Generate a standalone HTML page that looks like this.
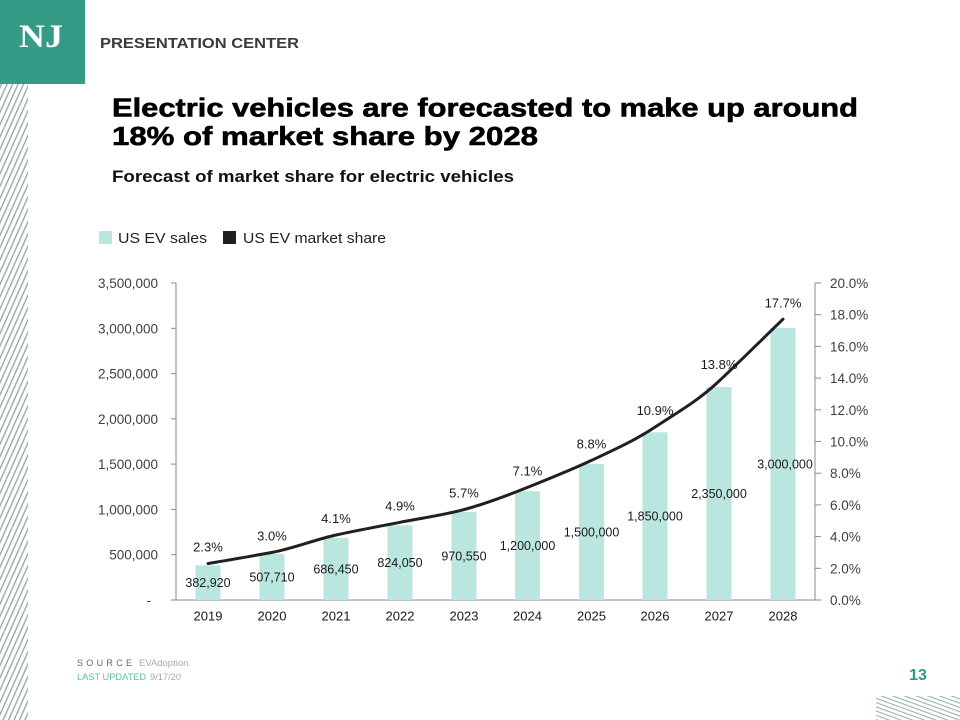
<!DOCTYPE html>
<html>
<head>
<meta charset="utf-8">
<style>
  html,body{margin:0;padding:0;background:#fff;}
  svg{display:block;}
  text{font-family:"Liberation Sans",Arial,sans-serif;}
</style>
</head>
<body>
<svg width="960" height="720" viewBox="0 0 960 720" xmlns="http://www.w3.org/2000/svg">
  <defs>
    <pattern id="hatchL" width="5" height="10" patternUnits="userSpaceOnUse" patternTransform="rotate(24)">
      <rect x="0" y="0" width="1.3" height="10" fill="#8fa6a9"/>
    </pattern>
    <pattern id="hatchR" width="10" height="4" patternUnits="userSpaceOnUse" patternTransform="rotate(20)">
      <rect x="0" y="0" width="10" height="1.1" fill="#9bb0b3"/>
    </pattern>
  </defs>
  <rect width="960" height="720" fill="#fff"/>

  <!-- left hatch strip -->
  <rect x="0" y="84" width="28" height="636" fill="url(#hatchL)"/>
  <!-- bottom-right hatch -->
  <rect x="876" y="696" width="84" height="24" fill="url(#hatchR)"/>

  <!-- logo -->
  <rect x="0" y="0" width="85" height="84" fill="#359b86"/>
  <text x="19" y="47" font-family="Liberation Serif, serif" font-weight="bold" font-size="33" fill="#fff" textLength="44" lengthAdjust="spacingAndGlyphs" style="font-family:'Liberation Serif',serif">NJ</text>
  <text x="100" y="48" font-weight="bold" font-size="14.5" fill="#3a3a3a" textLength="199" lengthAdjust="spacingAndGlyphs">PRESENTATION CENTER</text>

  <!-- title -->
  <text x="112" y="116.5" font-weight="bold" font-size="26" fill="#000" stroke="#000" stroke-width="0.6" textLength="746" lengthAdjust="spacingAndGlyphs">Electric vehicles are forecasted to make up around</text>
  <text x="112" y="145" font-weight="bold" font-size="26" fill="#000" stroke="#000" stroke-width="0.6" textLength="426" lengthAdjust="spacingAndGlyphs">18% of market share by 2028</text>
  <text x="112" y="182" font-weight="bold" font-size="17" fill="#111" textLength="402" lengthAdjust="spacingAndGlyphs">Forecast of market share for electric vehicles</text>

  <!-- legend -->
  <rect x="99" y="231" width="13" height="13" fill="#b9e6df"/>
  <text x="118" y="243" font-size="15" fill="#222" textLength="89" lengthAdjust="spacingAndGlyphs">US EV sales</text>
  <rect x="223" y="231" width="13" height="13" fill="#231f20"/>
  <text x="243" y="243" font-size="15" fill="#222" textLength="143" lengthAdjust="spacingAndGlyphs">US EV market share</text>

  <!-- axes -->
  <g stroke="#8a8a8a" stroke-width="1" fill="none">
    <line x1="176" y1="283" x2="176" y2="600"/>
    <line x1="815" y1="283" x2="815" y2="600"/>
    <line x1="171" y1="600" x2="821" y2="600"/>
    <!-- left ticks -->
    <line x1="171" y1="283" x2="176" y2="283"/>
    <line x1="171" y1="328.3" x2="176" y2="328.3"/>
    <line x1="171" y1="373.6" x2="176" y2="373.6"/>
    <line x1="171" y1="418.9" x2="176" y2="418.9"/>
    <line x1="171" y1="464.1" x2="176" y2="464.1"/>
    <line x1="171" y1="509.4" x2="176" y2="509.4"/>
    <line x1="171" y1="554.7" x2="176" y2="554.7"/>
    <!-- right ticks -->
    <line x1="815" y1="283" x2="821" y2="283"/>
    <line x1="815" y1="314.7" x2="821" y2="314.7"/>
    <line x1="815" y1="346.4" x2="821" y2="346.4"/>
    <line x1="815" y1="378.1" x2="821" y2="378.1"/>
    <line x1="815" y1="409.8" x2="821" y2="409.8"/>
    <line x1="815" y1="441.5" x2="821" y2="441.5"/>
    <line x1="815" y1="473.2" x2="821" y2="473.2"/>
    <line x1="815" y1="504.9" x2="821" y2="504.9"/>
    <line x1="815" y1="536.6" x2="821" y2="536.6"/>
    <line x1="815" y1="568.3" x2="821" y2="568.3"/>
  </g>

  <!-- left axis labels -->
  <g font-size="13.5" fill="#404040" text-anchor="end">
    <text x="158" y="288">3,500,000</text>
    <text x="158" y="333.3">3,000,000</text>
    <text x="158" y="378.6">2,500,000</text>
    <text x="158" y="423.9">2,000,000</text>
    <text x="158" y="469.1">1,500,000</text>
    <text x="158" y="514.4">1,000,000</text>
    <text x="158" y="559.7">500,000</text>
    <text x="151" y="605">-</text>
  </g>

  <!-- right axis labels -->
  <g font-size="13.5" fill="#404040">
    <text x="830" y="288">20.0%</text>
    <text x="830" y="319.7">18.0%</text>
    <text x="830" y="351.4">16.0%</text>
    <text x="830" y="383.1">14.0%</text>
    <text x="830" y="414.8">12.0%</text>
    <text x="830" y="446.5">10.0%</text>
    <text x="830" y="478.2">8.0%</text>
    <text x="830" y="509.9">6.0%</text>
    <text x="830" y="541.6">4.0%</text>
    <text x="830" y="573.3">2.0%</text>
    <text x="830" y="605">0.0%</text>
  </g>

  <!-- bars -->
  <g fill="#b9e6df">
    <rect x="195.5" y="565.3" width="25" height="34.7"/>
    <rect x="259.5" y="554.0" width="25" height="46.0"/>
    <rect x="323.5" y="537.8" width="25" height="62.2"/>
    <rect x="387.5" y="525.3" width="25" height="74.7"/>
    <rect x="451.5" y="512.0" width="25" height="88.0"/>
    <rect x="515" y="491.2" width="25" height="108.8"/>
    <rect x="579" y="464.0" width="25" height="136.0"/>
    <rect x="642.5" y="432.3" width="25" height="167.7"/>
    <rect x="706.5" y="387.0" width="25" height="213.0"/>
    <rect x="770.5" y="328.0" width="25" height="272.0"/>
  </g>

  <!-- line -->
  <path d="M208,563.5 C218.7,561.7 250.7,556.4 272,552.4 C293.3,548.4 314.7,539.7 336,535 C357.3,530.3 378.7,526.5 400,522.3 C421.3,518.1 442.5,515.4 464,509.6 C485.4,503.8 506.2,496.0 527.5,487.4 C548.8,478.8 570.2,470.4 591.5,460.4 C612.8,450.4 634.0,441.0 655,427.1 C676.0,413.2 697.6,401.3 719,381.1 C740.4,360.9 772.3,329.5 783,319.2" fill="none" stroke="#231f20" stroke-width="3" stroke-linecap="round" stroke-linejoin="round"/>

  <!-- percentage labels -->
  <g font-size="13" fill="#1a1a1a" text-anchor="middle">
    <text x="208" y="551.5">2.3%</text>
    <text x="272" y="540.4">3.0%</text>
    <text x="336" y="523">4.1%</text>
    <text x="400" y="510.3">4.9%</text>
    <text x="464" y="497.6">5.7%</text>
    <text x="527.5" y="475.4">7.1%</text>
    <text x="591.5" y="448.4">8.8%</text>
    <text x="655" y="415.1">10.9%</text>
    <text x="719" y="369.1">13.8%</text>
    <text x="783" y="307.5">17.7%</text>
  </g>

  <!-- value labels -->
  <g font-size="12.5" fill="#1a1a1a" text-anchor="middle">
    <text x="208" y="587.2">382,920</text>
    <text x="272" y="581.5">507,710</text>
    <text x="336" y="573.4">686,450</text>
    <text x="400" y="567.2">824,050</text>
    <text x="464" y="560.5">970,550</text>
    <text x="527.5" y="550.1">1,200,000</text>
    <text x="591.5" y="536.5">1,500,000</text>
    <text x="655" y="520.7">1,850,000</text>
    <text x="719" y="498">2,350,000</text>
    <text x="785" y="468.5">3,000,000</text>
  </g>

  <!-- category labels -->
  <g font-size="13" fill="#1a1a1a" text-anchor="middle">
    <text x="208" y="620.5">2019</text>
    <text x="272" y="620.5">2020</text>
    <text x="336" y="620.5">2021</text>
    <text x="400" y="620.5">2022</text>
    <text x="464" y="620.5">2023</text>
    <text x="527.5" y="620.5">2024</text>
    <text x="591.5" y="620.5">2025</text>
    <text x="655" y="620.5">2026</text>
    <text x="719" y="620.5">2027</text>
    <text x="783" y="620.5">2028</text>
  </g>

  <!-- footer -->
  <text x="77" y="666" font-size="9" fill="#666" textLength="55" lengthAdjust="spacing">SOURCE</text>
  <text x="139" y="666" font-size="9" fill="#aaa" textLength="52" lengthAdjust="spacingAndGlyphs">EVAdoption.</text>
  <text x="77" y="680" font-size="9" fill="#5cc0a5" textLength="69" lengthAdjust="spacingAndGlyphs">LAST UPDATED</text>
  <text x="150" y="680" font-size="9" fill="#aaa" textLength="31" lengthAdjust="spacingAndGlyphs">9/17/20</text>

  <text x="918" y="680" font-size="16" font-weight="bold" fill="#2e9a85" text-anchor="middle">13</text>
</svg>
</body>
</html>
